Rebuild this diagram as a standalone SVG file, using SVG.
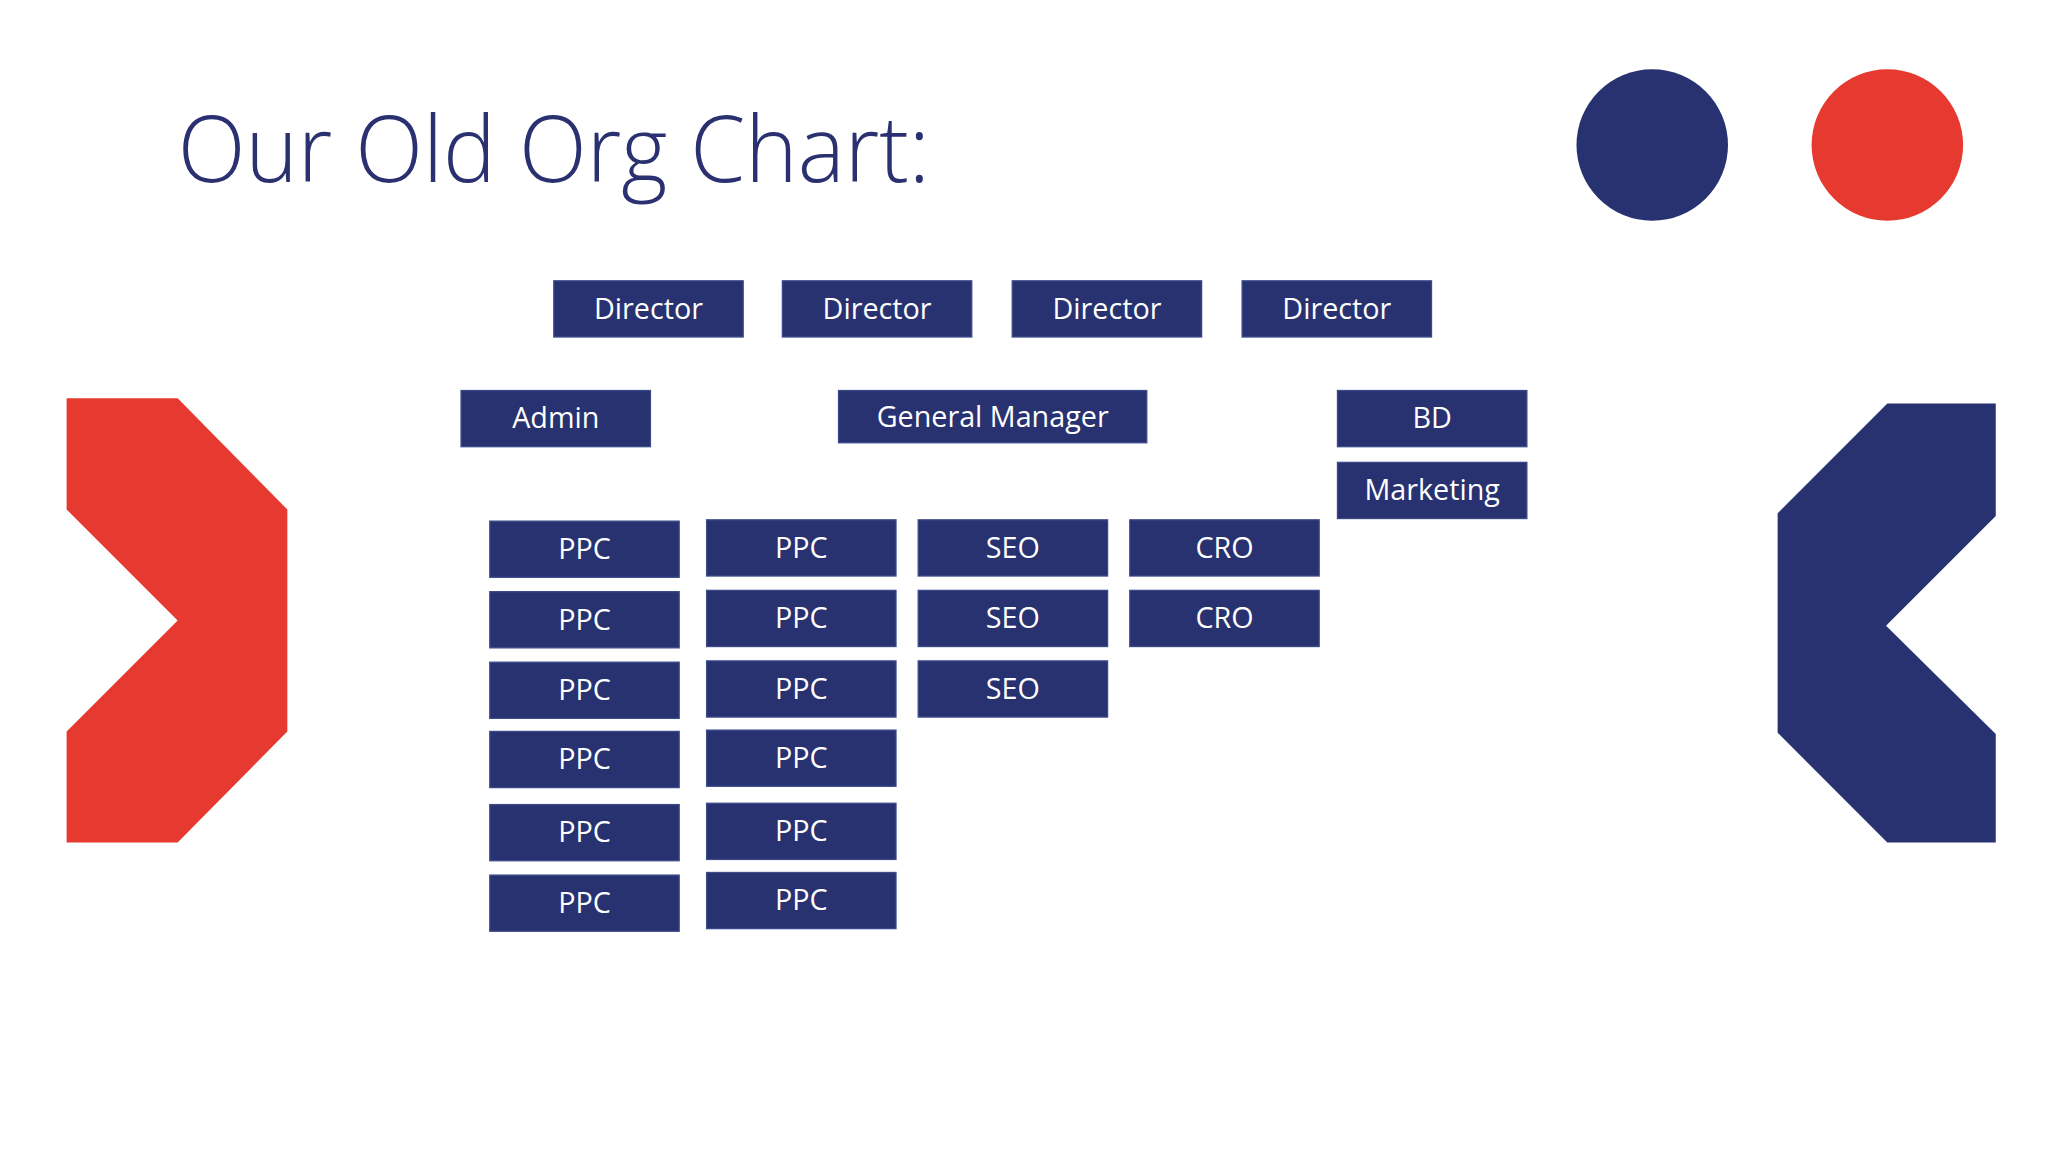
<svg xmlns="http://www.w3.org/2000/svg" width="2048" height="1152" viewBox="0 0 2048 1152">
<style>
.b{fill:#283270;stroke:#3b4a8a;stroke-width:1}
.t{font-family:"Open Sans","Noto Sans",sans-serif;font-size:22px;fill:#fff;text-anchor:middle}
</style>
<rect width="2048" height="1152" fill="#fff"/>
<g transform="scale(1.30612)">
<g id="decor">
<circle cx="1265" cy="111" r="58" fill="#283270"/>
<circle cx="1445" cy="111" r="58" fill="#e63a30"/>
<polygon points="51,305 136,305 220,390 220,560 136,645 51,645 51,560 136,475 51,390" fill="#e63a30"/>
<polygon points="1528,309 1445,309 1361,393 1361,561 1445,645 1528,645 1528,562 1444,479 1528,395" fill="#283270"/>
</g>
<text id="title" x="136" y="139" font-family="'Open Sans','Noto Sans',sans-serif" font-weight="300" font-size="70" fill="#2a3070" textLength="576" lengthAdjust="spacingAndGlyphs">Our Old Org Chart:</text>
<g id="d1"><rect class="b" x="424" y="215" width="145" height="43"/><text class="t" x="496.5" y="244">Director</text></g>
<g id="d2"><rect class="b" x="599" y="215" width="145" height="43"/><text class="t" x="671.5" y="244">Director</text></g>
<g id="d3"><rect class="b" x="775" y="215" width="145" height="43"/><text class="t" x="847.5" y="244">Director</text></g>
<g id="d4"><rect class="b" x="951" y="215" width="145" height="43"/><text class="t" x="1023.5" y="244">Director</text></g>
<g id="admin"><rect class="b" x="353" y="299" width="145" height="43"/><text class="t" x="425.5" y="328">Admin</text></g>
<g id="gm"><rect class="b" x="642" y="299" width="236" height="40"/><text class="t" x="760" y="327">General Manager</text></g>
<g id="bd"><rect class="b" x="1024" y="299" width="145" height="43"/><text class="t" x="1096.5" y="328">BD</text></g>
<g id="mkt"><rect class="b" x="1024" y="354" width="145" height="43"/><text class="t" x="1096.5" y="383">Marketing</text></g>
<g id="ppc1"><rect class="b" x="375" y="399" width="145" height="43"/><text class="t" x="447.5" y="428">PPC</text></g>
<g id="ppc2"><rect class="b" x="375" y="453" width="145" height="43"/><text class="t" x="447.5" y="482">PPC</text></g>
<g id="ppc3"><rect class="b" x="375" y="507" width="145" height="43"/><text class="t" x="447.5" y="536">PPC</text></g>
<g id="ppc4"><rect class="b" x="375" y="560" width="145" height="43"/><text class="t" x="447.5" y="589">PPC</text></g>
<g id="ppc5"><rect class="b" x="375" y="616" width="145" height="43"/><text class="t" x="447.5" y="645">PPC</text></g>
<g id="ppc6"><rect class="b" x="375" y="670" width="145" height="43"/><text class="t" x="447.5" y="699">PPC</text></g>
<g id="ppc7"><rect class="b" x="541" y="398" width="145" height="43"/><text class="t" x="613.5" y="427">PPC</text></g>
<g id="ppc8"><rect class="b" x="541" y="452" width="145" height="43"/><text class="t" x="613.5" y="481">PPC</text></g>
<g id="ppc9"><rect class="b" x="541" y="506" width="145" height="43"/><text class="t" x="613.5" y="535">PPC</text></g>
<g id="ppc10"><rect class="b" x="541" y="559" width="145" height="43"/><text class="t" x="613.5" y="588">PPC</text></g>
<g id="ppc11"><rect class="b" x="541" y="615" width="145" height="43"/><text class="t" x="613.5" y="644">PPC</text></g>
<g id="ppc12"><rect class="b" x="541" y="668" width="145" height="43"/><text class="t" x="613.5" y="697">PPC</text></g>
<g id="seo1"><rect class="b" x="703" y="398" width="145" height="43"/><text class="t" x="775.5" y="427">SEO</text></g>
<g id="seo2"><rect class="b" x="703" y="452" width="145" height="43"/><text class="t" x="775.5" y="481">SEO</text></g>
<g id="seo3"><rect class="b" x="703" y="506" width="145" height="43"/><text class="t" x="775.5" y="535">SEO</text></g>
<g id="cro1"><rect class="b" x="865" y="398" width="145" height="43"/><text class="t" x="937.5" y="427">CRO</text></g>
<g id="cro2"><rect class="b" x="865" y="452" width="145" height="43"/><text class="t" x="937.5" y="481">CRO</text></g>
<g id="connectors"></g>
</g>
</svg>
